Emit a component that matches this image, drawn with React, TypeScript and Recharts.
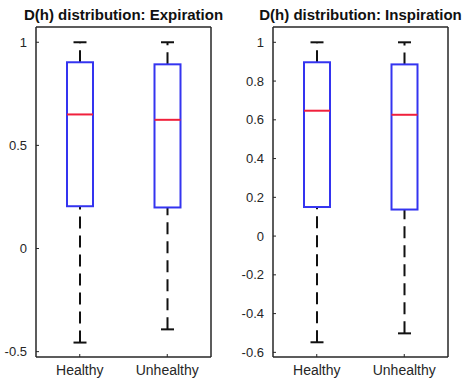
import React from 'react';
import { ComposedChart, Bar, XAxis, YAxis } from 'recharts';

const categories = ['Healthy', 'Unhealthy'];

const expMin = [-0.456, -0.392];
const expQ1 = [0.205, 0.199];
const expMed = [0.65, 0.624];
const expQ3 = [0.903, 0.893];
const expMax = [1.0, 1.0];

const insMin = [-0.548, -0.502];
const insQ1 = [0.15, 0.137];
const insMed = [0.647, 0.626];
const insQ3 = [0.897, 0.886];
const insMax = [1.0, 1.0];

const expTicks = [-0.5, 0, 0.5, 1];
const insTicks = [-0.6, -0.4, -0.2, 0, 0.2, 0.4, 0.6, 0.8, 1];

const expDomain: [number, number] = [-0.526, 1.074];
const insDomain: [number, number] = [-0.624, 1.079];

type Row = { name: string; min: number; q1: number; med: number; q3: number; max: number };

const build = (mn: number[], q1: number[], md: number[], q3: number[], mx: number[]): Row[] =>
  categories.map((name, i) => ({ name, min: mn[i], q1: q1[i], med: md[i], q3: q3[i], max: mx[i] }));

const expData = build(expMin, expQ1, expMed, expQ3, expMax);
const insData = build(insMin, insQ1, insMed, insQ3, insMax);

const BOX = '#3434f0';
const MED = '#f0203c';
const AX = '#262626';

const BoxShape = (props: any) => {
  const { x, y, width, height, payload } = props;
  if (!payload || height == null) return null;
  const top = Math.min(y, y + height);
  const h = Math.abs(height);
  const ppu = h / (payload.max - payload.min);
  const pix = (v: number) => top + (payload.max - v) * ppu;
  const cx = x + width / 2;
  const cap = width / 2;
  return (
    <g>
      <line x1={cx} x2={cx} y1={pix(payload.q3)} y2={pix(payload.max)} stroke="#111" strokeWidth={2} strokeDasharray="12 7" />
      <line x1={cx} x2={cx} y1={pix(payload.min)} y2={pix(payload.q1)} stroke="#111" strokeWidth={2} strokeDasharray="12 7" />
      <line x1={cx - cap / 2} x2={cx + cap / 2} y1={pix(payload.max)} y2={pix(payload.max)} stroke="#111" strokeWidth={2} />
      <line x1={cx - cap / 2} x2={cx + cap / 2} y1={pix(payload.min)} y2={pix(payload.min)} stroke="#111" strokeWidth={2} />
      <rect x={x} y={pix(payload.q3)} width={width} height={pix(payload.q1) - pix(payload.q3)} fill="#fff" stroke={BOX} strokeWidth={2} />
      <line x1={x} x2={x + width} y1={pix(payload.med)} y2={pix(payload.med)} stroke={MED} strokeWidth={2} />
    </g>
  );
};

const Panel = ({ data, ticks, domain, title, left }: { data: Row[]; ticks: number[]; domain: [number, number]; title: string; left: number }) => (
  <div style={{ position: 'absolute', left, top: 0, width: 237, height: 385 }}>
    <div
      style={{
        position: 'absolute',
        left: 0,
        width: 247,
        top: 6,
        lineHeight: '18px',
        fontSize: 15,
        fontWeight: 'bold',
        fontFamily: 'Liberation Sans, Arial, sans-serif',
        color: '#111',
        textAlign: 'center',
        whiteSpace: 'nowrap',
      }}
    >
      {title}
    </div>
    <ComposedChart width={237} height={385} data={data} margin={{ top: 26, right: 25, bottom: 0, left: 0 }}>
      <XAxis
        xAxisId="b"
        dataKey="name"
        type="category"
        height={28}
        tickSize={-3}
        tickMargin={11}
        stroke={AX}
        axisLine={{ stroke: AX, strokeWidth: 1.5 }}
        tick={{ fill: AX, fontSize: 14, fontFamily: 'Liberation Sans, Arial, sans-serif' }}
        interval={0}
      />
      <XAxis
        xAxisId="t"
        dataKey="name"
        type="category"
        orientation="top"
        height={1}
        tickSize={-3}
        tick={false}
        stroke={AX}
        axisLine={{ stroke: AX, strokeWidth: 1.5 }}
      />
      <YAxis
        yAxisId="l"
        type="number"
        domain={domain}
        ticks={ticks}
        width={36}
        tickSize={-3}
        tickMargin={12}
        stroke={AX}
        axisLine={{ stroke: AX, strokeWidth: 1.5 }}
        tick={{ fill: AX, fontSize: 13, fontFamily: 'Liberation Sans, Arial, sans-serif' }}
        interval={0}
        allowDataOverflow
      />
      <YAxis
        yAxisId="r"
        orientation="right"
        type="number"
        domain={domain}
        ticks={ticks}
        width={1}
        tickSize={-3}
        tick={false}
        stroke={AX}
        axisLine={{ stroke: AX, strokeWidth: 1.5 }}
        allowDataOverflow
      />
      <Bar
        xAxisId="b"
        yAxisId="l"
        dataKey={(d: Row) => [d.min, d.max]}
        barSize={26}
        shape={BoxShape}
        isAnimationActive={false}
      />
    </ComposedChart>
  </div>
);

export default function App() {
  return (
    <div style={{ position: 'absolute', left: 0, top: 0, width: 474, height: 385, background: '#fff' }}>
      <Panel data={expData} ticks={expTicks} domain={expDomain} title="D(h) distribution: Expiration" left={0} />
      <Panel data={insData} ticks={insTicks} domain={insDomain} title="D(h) distribution: Inspiration" left={237} />
    </div>
  );
}
